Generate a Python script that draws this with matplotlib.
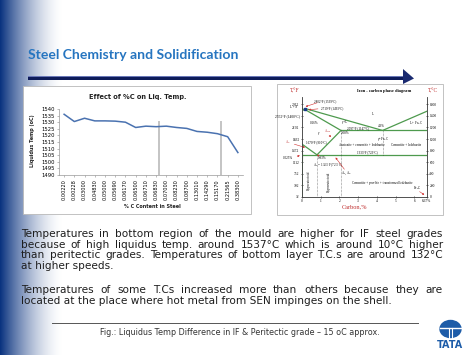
import numpy as np
import matplotlib.pyplot as plt
from matplotlib.patches import Rectangle, Polygon, Ellipse

W, H = 474, 355

# ---- left chart: liquidus temperature vs carbon content
carbon_pct = ['0.00220', '0.00228', '0.03000', '0.04830', '0.05000', '0.05690',
              '0.06170', '0.06500', '0.06710', '0.06830', '0.07000', '0.08230',
              '0.08700', '0.13010', '0.14290', '0.15170', '0.21565', '0.38300']
liquidus_temp = [1536, 1530.5, 1533, 1531, 1531, 1530.8, 1530, 1526, 1527, 1526.6,
                 1527, 1526, 1525.3, 1523, 1522.4, 1521.3, 1519, 1507]
marker_idx = [9.3, 15.3]
marker_top = 1530

# ---- right picture: iron - carbon phase diagram (%C, deg C)
liq_c, liq_t = [0.18, 4.3, 6.67], [1525, 1148, 1480]
sol_c, sol_t = [0.18, 2.08], [1505, 1148]
eutectic_c, eutectic_t = [2.08, 6.67], [1148, 1148]
acm_c, acm_t = [2.08, 0.8], [1148, 727]
a3_c, a3_t = [0.0, 0.8], [912, 727]
eutectoid_c, eutectoid_t = [0.025, 6.67], [727, 727]
ferrite_c, ferrite_t = [0.0, 0.025, 0.0], [912, 727, 0]
delta_c, delta_t = [0.0, 0.1, 0.18], [1538, 1495, 1505]
dotted_c = [0.8, 2.08, 4.3]
dotted_lo = [0, 0, 727]
dotted_hi = [727, 1148, 1148]
temp_c = [0, 200, 400, 600, 800, 1000, 1200, 1400, 1600]
temp_f = ['32', '392', '752', '1112', '1472', '1832', '2192', '2552°F (1400°C)', '2912']
carbon_ticks = [0, 1, 2, 3, 4, 5, 6, 6.67]
carbon_labels = ['0', '1', '2', '3', '4', '5', '6', '6.67%']
diagram_labels = [
    ('2802°F (1539°C)', 1.25, 1660, 'k', 0),
    ('2719°F (1493°C)', 1.6, 1540, 'k', 0),
    ('0.16%', 0.65, 1270, 'k', 0),
    ('L', 3.8, 1440, 'k', 0),
    ('L + Fe$_3$C', 6.1, 1270, 'k', 0),
    ('γ+L', 2.25, 1290, 'k', 0),
    ('2.08%', 2.3, 1100, 'k', 0),
    ('2097°F (1147°C)', 3.0, 1195, 'k', 0),
    ('4.3%', 4.25, 1225, 'k', 0),
    ('γ', 0.9, 1100, 'k', 0),
    ('A$_{cm}$', 1.4, 1135, '#c03030', 0),
    ('γ+Fe$_3$C', 4.3, 1000, 'k', 0),
    ('1670°F (910°C)', 0.75, 950, 'k', 0),
    ('Austenite + cementite + ledeburite', 3.2, 900, 'k', 0),
    ('Cementite + ledeburite', 5.55, 900, 'k', 0),
    ('1333°F (723°C)', 3.5, 770, 'k', 0),
    ('0.83%', 1.07, 680, 'k', 0),
    ('A$_1$ = 1333°F (723°C)', 1.4, 555, 'k', 0),
    ('A$_1$, A$_3$', 2.4, 410, 'k', 0),
    ('Hypoeutectoid', 0.38, 280, 'k', 90),
    ('Hypereutectoid', 1.45, 255, 'k', 90),
    ('Cementite + pearlite + transformed ledeburite', 4.3, 250, 'k', 0),
    ('Fe$_3$C', 6.15, 150, 'k', 0),
    ('L + δ', -0.45, 1545, 'k', 0),
    ('A$_3$', -0.75, 950, '#c03030', 0),
    ('0.025%', -0.75, 675, 'k', 0),
]

para1 = ["Temperatures in bottom region of the mould are higher for IF steel grades",
         "because of high liquidus temp. around 1537°C which is around 10°C higher",
         "than peritectic grades. Temperatures of bottom layer T.C.s are around 132°C",
         "at higher speeds."]
para2 = ["Temperatures of some T.Cs increased more than others because they are",
         "located at the place where hot metal from SEN impinges on the shell."]
caption = "Fig.: Liquidus Temp Difference in IF & Peritectic grade \u2013 15 oC approx."


def px(x0, y0, x1, y1):
    return [x0 / W, 1 - y1 / H, (x1 - x0) / W, (y1 - y0) / H]


fig = plt.figure(figsize=(W / 100, H / 100), dpi=100)
renderer = fig.canvas.get_renderer()

# background in pixel coordinates
bg = fig.add_axes([0, 0, 1, 1])
bg.set_xlim(0, W)
bg.set_ylim(H, 0)
bg.axis('off')
t = np.clip(np.arange(W) / 62.0, 0, 1)
a = (1 - t) ** 1.6
navy = np.array([0.04, 0.20, 0.50])
row = a[:, None] * navy + (1 - a[:, None])
bg.imshow(np.tile(row[None, :, :], (H, 1, 1)), extent=(0, W, H, 0), aspect='auto')


def text_width(s, size, **kw):
    tx = bg.text(0, 0, s, fontsize=size, **kw)
    w = tx.get_window_extent(renderer).width
    tx.remove()
    return w


# slide title and arrow bar
title = 'Steel Chemistry and Solidification'
tsize = 9 * 210 / text_width(title, 9, family='Lato', fontweight='bold')
bg.text(28, 59, title, fontsize=tsize, family='Lato', fontweight='bold',
        color='#2675c0', va='baseline')
bg.add_patch(Rectangle((28, 75.5), 378, 1.5, color='#6a78b8', lw=0))
bg.add_patch(Rectangle((28, 77), 378, 3, color='#0e1c5a', lw=0))
bg.add_patch(Polygon([[403, 69], [414, 78.5], [403, 84]], closed=True, color='#1a2a70', lw=0))

# chart frames
bg.add_patch(Rectangle((23, 86), 228, 128, facecolor='white', edgecolor='#b8b8b8', lw=0.6))
bg.add_patch(Rectangle((277, 84), 166, 131, facecolor='white', edgecolor='#b8b8b8', lw=0.6))

# ---- liquidus line chart
ax = fig.add_axes(px(59, 109, 243, 175))
x = np.arange(len(carbon_pct))
for m in marker_idx:
    ax.plot([m, m], [1490, marker_top], color='#c4c4c4', lw=1.4, zorder=1)
ax.plot(x, liquidus_temp, color='#4a72b0', lw=1.1, zorder=2)
ax.set_xlim(-0.5, len(x) - 0.5)
ax.set_ylim(1490, 1540)
ax.set_yticks(np.arange(1490, 1541, 5))
ax.set_xticks(x)
ax.set_xticklabels(carbon_pct, rotation=90)
ax.tick_params(axis='y', labelsize=3.8, length=1.5, width=0.4, color='#888', pad=1.5)
ax.tick_params(axis='x', labelsize=3.6, length=1.5, width=0.4, color='#888', pad=1.5)
for s in ['top', 'right']:
    ax.spines[s].set_visible(False)
for s in ['left', 'bottom']:
    ax.spines[s].set_color('#999999')
    ax.spines[s].set_linewidth(0.5)
bg.text(137.5, 97, 'Effect of %C on Liq. Temp.', fontsize=4.8, fontweight='bold',
        ha='center', va='center', color='#222')
bg.text(32.5, 141, 'Liquidus Temp (oC)', fontsize=3.5, fontweight='bold',
        ha='center', va='center', rotation=90, color='#222')
bg.text(152, 207, '% C Content in Steel', fontsize=3.5, fontweight='bold',
        ha='center', va='center', color='#222')

# ---- iron carbon diagram
serif = 'Liberation Serif'
green = '#4e9a4e'
ax2 = fig.add_axes(px(302, 97, 427, 197))
for cs, ts in [(liq_c, liq_t), (sol_c, sol_t), (eutectic_c, eutectic_t), (acm_c, acm_t),
               (a3_c, a3_t), (eutectoid_c, eutectoid_t), (ferrite_c, ferrite_t),
               (delta_c, delta_t)]:
    ax2.plot(cs, ts, color=green, lw=0.9)
for c, lo, hi in zip(dotted_c, dotted_lo, dotted_hi):
    ax2.plot([c, c], [lo, hi], color='#333', lw=0.4, ls=(0, (1, 1.5)))
ax2.set_xlim(0, 6.67)
ax2.set_ylim(0, 1725)
ax2.set_xticks(carbon_ticks, carbon_labels, family=serif)
ax2.set_yticks(temp_c, temp_f, family=serif)
ax2.tick_params(labelsize=2.6, length=1.5, width=0.4, direction='inout', pad=1)
ax2r = ax2.twinx()
ax2r.set_ylim(0, 1725)
ax2r.set_yticks(temp_c, [str(v) for v in temp_c], family=serif)
ax2r.tick_params(labelsize=2.6, length=1.5, width=0.4, direction='inout', pad=1)
for axx in (ax2, ax2r):
    axx.spines['top'].set_visible(False)
    for s in ['left', 'right', 'bottom']:
        axx.spines[s].set_linewidth(0.5)
        axx.spines[s].set_color('#444')
for txt, cx, cy, col, rot in diagram_labels:
    ax2.text(cx, cy, txt, fontsize=2.3, family=serif, color=col, rotation=rot,
             ha='center', va='center', clip_on=False)
arrows = [((0.95, 1640), (0.05, 1545)), ((1.0, 1525), (0.2, 1500)),
          ((1.4, 1095), (1.62, 990)), ((-0.55, 925), (0.3, 840)),
          ((-0.4, 690), (0.03, 727)), ((2.35, 440), (1.7, 720)),
          ((1.0, 700), (0.8, 727)), ((6.15, 120), (6.65, 10))]
for (x0, y0), (x1, y1) in arrows:
    ax2.annotate('', xy=(x1, y1), xytext=(x0, y0), annotation_clip=False,
                 arrowprops=dict(arrowstyle='-|>', color='#d03030', lw=0.4,
                                 mutation_scale=2.5))
ax2.plot([0.18], [1525], 's', color='#1a3a8a', ms=1.5)
bg.text(384, 91, 'Iron - carbon phase diagram', fontsize=3.2, family=serif,
        fontweight='bold', ha='center', va='center')
bg.text(295, 91, 'T,°F', fontsize=4, family=serif, color='#c03030', ha='center', va='center')
bg.text(433, 91, 'T,°C', fontsize=4, family=serif, color='#c03030', ha='center', va='center')
bg.text(355, 207, 'Carbon,%', fontsize=4.5, family=serif, color='#c03030', ha='center', va='center')

# ---- body text (justified)
body_col = '#1e1e1e'
bsize = 7 * 368 / text_width(para2[1], 7)


def justified(lines, y0, size, x0=21, x1=443, dy=10.9):
    for k, line in enumerate(lines):
        y = y0 + k * dy
        if k == len(lines) - 1:
            bg.text(x0, y, line, fontsize=size, va='baseline', color=body_col)
            continue
        words = line.split()
        widths = [text_width(w, size) for w in words]
        gap = (x1 - x0 - sum(widths)) / (len(words) - 1)
        xx = x0
        for w, wd in zip(words, widths):
            bg.text(xx, y, w, fontsize=size, va='baseline', color=body_col)
            xx += wd + gap


justified(para1, 236.7, bsize)
justified(para2, 293.3, bsize)

# caption and separator
bg.plot([52, 418], [322.7, 322.7], color='#555', lw=0.7)
csize = 5 * 280 / text_width(caption, 5)
bg.text(240, 335, caption, fontsize=csize, ha='center', va='baseline', color='#333')

# TATA logo
logo_col = '#1d5ca8'
bg.add_patch(Ellipse((450.5, 329), 21, 17, color=logo_col))
bg.plot([440, 461], [327.5, 327.5], color='white', lw=1.0)
bg.plot([448.7, 448.7], [327.5, 338], color='white', lw=0.8)
bg.plot([452.3, 452.3], [327.5, 338], color='white', lw=0.8)
lsize = 7 * 26 / text_width('TATA', 7, fontweight='bold')
bg.text(450.5, 348, 'TATA', fontsize=lsize, fontweight='bold', color=logo_col,
        ha='center', va='baseline')

fig.savefig('out.png', dpi=100)
